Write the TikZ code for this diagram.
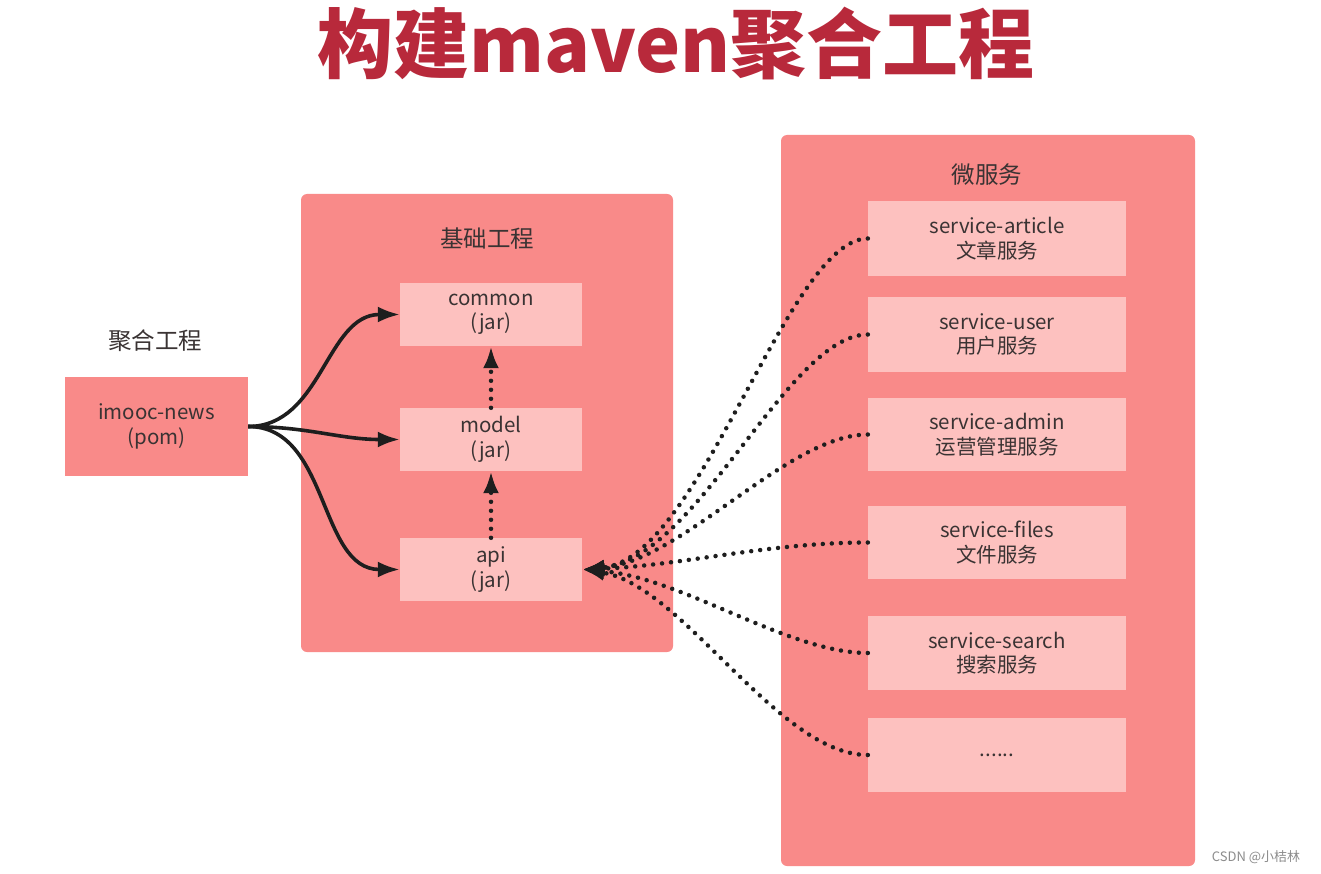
\documentclass[tikz,border=0pt]{standalone}
\usepackage{fontspec}
\setmainfont{Noto Sans CJK SC}
\usetikzlibrary{arrows.meta,calc}
\definecolor{outer}{HTML}{F98A89}
\definecolor{inner}{HTML}{FDC1BF}
\definecolor{titlered}{HTML}{B8293B}
\definecolor{txt}{HTML}{3A3333}
\definecolor{ink}{HTML}{1E1E1E}
\begin{document}
\begin{tikzpicture}[x=1pt,y=-1pt,
  container/.style={fill=outer, rounded corners=6pt, inner sep=0pt},
  box/.style={fill=inner, text=txt, align=center, inner sep=0pt, font=\fontsize{20.5}{24.5}\selectfont},
  pombox/.style={fill=outer, text=txt, align=center, inner sep=0pt, font=\fontsize{20.5}{25}\selectfont},
  heading/.style={text=txt, font=\fontsize{23.5}{27}\selectfont},
  solidarrow/.style={draw=ink, line width=3.6pt, -{Latex[length=22pt,width=16pt]}},
  dotarrow/.style={draw=ink, line width=4.5pt, line cap=round, dash pattern=on 0pt off 9pt, -{Latex[length=22pt,width=16pt]}},
]
\fill[white] (0,0) rectangle (1321,874);
\useasboundingbox (0,0) rectangle (1321,874);

% title
\node[text=titlered, font=\fontsize{76}{80}\selectfont\bfseries] (title) at (676,44) {构建maven聚合工程};

% containers
\node[container, minimum width=372pt, minimum height=458pt] (basecont) at (487,423) {};
\node[container, minimum width=414pt, minimum height=731pt] (msvc) at (988,500.5) {};

% headings
\node[heading] (aggl) at (155,341) {聚合工程};
\node[heading] (basel) at (487,239) {基础工程};
\node[heading] (msvcl) at (987,175) {微服务};

% aggregate project
\node[pombox, minimum width=183pt, minimum height=99pt] (imooc) at (156.5,426.5) {imooc-news\\(pom)};

% base modules
\node[box, minimum width=182pt, minimum height=63pt] (common) at (491,314.5) {common\\(jar)};
\node[box, minimum width=182pt, minimum height=63pt] (model) at (491,439.5) {model\\(jar)};
\node[box, minimum width=182pt, minimum height=63pt] (api) at (491,569.5) {api\\(jar)};

% services
\node[box, minimum width=258pt, minimum height=75pt] (s1) at (997,238.5) {service-article\\文章服务};
\node[box, minimum width=258pt, minimum height=75pt] (s2) at (997,334.5) {service-user\\用户服务};
\node[box, minimum width=258pt, minimum height=73pt] (s3) at (997,434.5) {service-admin\\运营管理服务};
\node[box, minimum width=258pt, minimum height=73pt] (s4) at (997,542.5) {service-files\\文件服务};
\node[box, minimum width=258pt, minimum height=74pt] (s5) at (997,653) {service-search\\搜索服务};
\node[box, minimum width=258pt, minimum height=74pt] (s6) at (997,755) {......};

% solid arrows
\draw[solidarrow] (imooc.east) to[out=0,in=180] (common.west);
\draw[solidarrow] (imooc.east) to[out=0,in=180] (model.west);
\draw[solidarrow] (imooc.east) to[out=0,in=180] (api.west);

% dotted vertical
\draw[dotarrow] (model.north) -- (common.south);
\draw[dotarrow] (api.north) -- (model.south);

% services to api
\draw[dotarrow] (s1.west) .. controls ($(s1.west)+(-80,0)$) and ($(api.east)+(118,-10)$) .. (api.east);
\draw[dotarrow] (s2.west) .. controls ($(s2.west)+(-80,0)$) and ($(api.east)+(115,-10)$) .. (api.east);
\draw[dotarrow] (s3.west) .. controls ($(s3.west)+(-80,0)$) and ($(api.east)+(100,-8)$) .. (api.east);
\draw[dotarrow] (s4.west) .. controls ($(s4.west)+(-100,0)$) and ($(api.east)+(100,-4)$) .. (api.east);
\draw[dotarrow] (s5.west) .. controls ($(s5.west)+(-80,0)$) and ($(api.east)+(100,8)$) .. (api.east);
\draw[dotarrow] (s6.west) .. controls ($(s6.west)+(-90,0)$) and ($(api.east)+(100,15)$) .. (api.east);

% watermark
\node[text=black!45, font=\fontsize{13}{15}\selectfont] (wm) at (1256,857) {CSDN @小桔林};
\end{tikzpicture}
\end{document}
